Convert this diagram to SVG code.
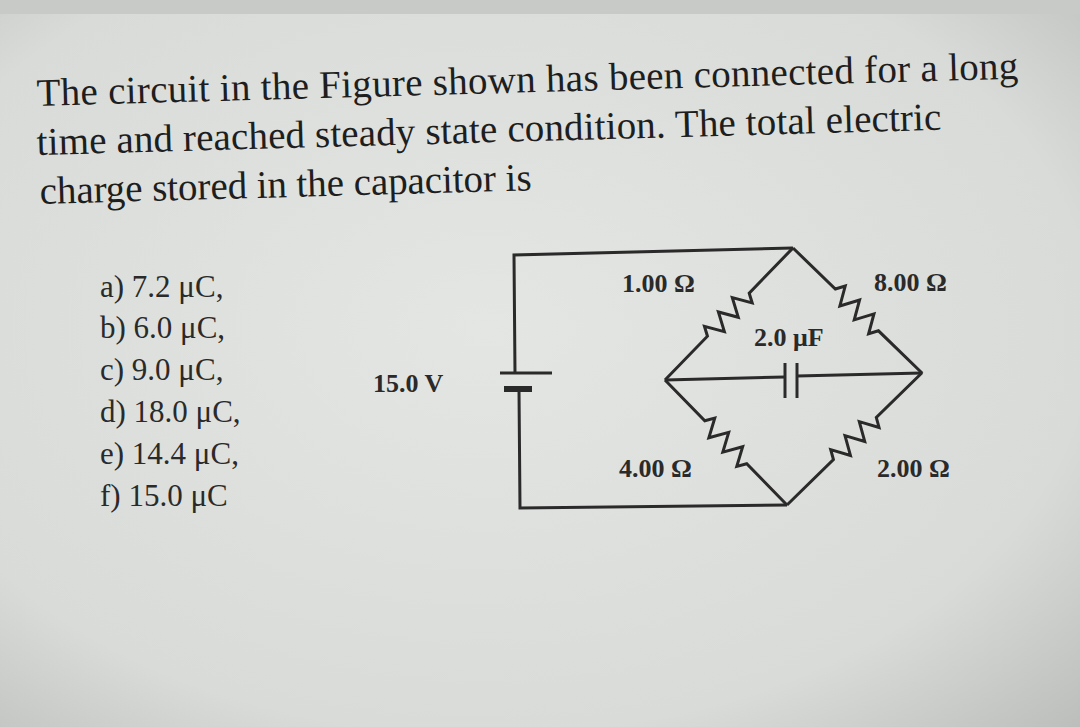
<svg xmlns="http://www.w3.org/2000/svg" width="1080" height="727" viewBox="0 0 1080 727">
<defs>
<radialGradient id="bg" cx="0.45" cy="0.45" r="0.8">
<stop offset="0" stop-color="#e4e6e3"/><stop offset="0.7" stop-color="#d9dbd8"/><stop offset="1" stop-color="#b9bbb8"/>
</radialGradient>
</defs>
<style>
.w{fill:none;stroke:#2a2a2a;stroke-width:3;stroke-linejoin:miter}
.q{font-family:"Liberation Serif",serif;font-size:39px;fill:#1e1e1e}
.a{font-family:"Liberation Serif",serif;font-size:31px;fill:#2a2a2a}
.l{font-family:"Liberation Serif",serif;font-size:26px;font-weight:bold;fill:#2a2a2a}
</style>
<rect width="1080" height="727" fill="url(#bg)"/>
<rect x="0" y="0" width="1080" height="14" fill="#c8cac7"/>
<g id="question">
<text class="q" x="37" y="106" transform="rotate(-1.6 37 106)" textLength="982">The circuit in the Figure shown has been connected for a long</text>
<text class="q" x="37" y="155" transform="rotate(-1.6 37 155)" textLength="905">time and reached steady state condition. The total electric</text>
<text class="q" x="40" y="204" transform="rotate(-1.6 40 204)" textLength="492">charge stored in the capacitor is</text>
</g>
<g id="answers">
<text class="a" x="100" y="297">a) 7.2 μC,</text>
<text class="a" x="100" y="338">b) 6.0 μC,</text>
<text class="a" x="100" y="380">c) 9.0 μC,</text>
<text class="a" x="100" y="422">d) 18.0 μC,</text>
<text class="a" x="100" y="464">e) 14.4 μC,</text>
<text class="a" x="100" y="506">f) 15.0 μC</text>
</g>
<g id="connectors">
<polyline class="w" points="515,373 514,255 793,248"/>
<polyline class="w" points="519,390 520,508 787,505"/>
<line class="w" x1="665" y1="380" x2="785" y2="377"/>
<line class="w" x1="797" y1="376" x2="922" y2="373"/>
</g>
<g id="battery">
<line x1="500" y1="373" x2="552" y2="373" stroke="#2a2a2a" stroke-width="3"/>
<line x1="504" y1="389" x2="532" y2="389" stroke="#2a2a2a" stroke-width="6"/>
<text class="l" x="373" y="392">15.0 V</text>
</g>
<g id="capacitor">
<line x1="785" y1="363" x2="785" y2="398" stroke="#2a2a2a" stroke-width="3"/>
<line x1="797" y1="363" x2="797" y2="398" stroke="#2a2a2a" stroke-width="3"/>
<text class="l" x="754" y="346">2.0 μF</text>
</g>
<g id="r1">
<path class="w" transform="translate(665 380) rotate(-45.9)" d="M0 0 H61 l5 -9 l10 18 l10 -18 l10 18 l10 -18 l10 18 l5 -9 H184"/>
<text class="l" x="622" y="292">1.00 Ω</text>
</g>
<g id="r8">
<path class="w" transform="translate(793 248) rotate(44.1)" d="M0 0 H59 l5 -9 l10 18 l10 -18 l10 18 l10 -18 l10 18 l5 -9 H180"/>
<text class="l" x="874" y="291">8.00 Ω</text>
</g>
<g id="r4">
<path class="w" transform="translate(665 380) rotate(45.7)" d="M0 0 H57 l5 -9 l10 18 l10 -18 l10 18 l10 -18 l10 18 l5 -9 H175"/>
<text class="l" x="619" y="477">4.00 Ω</text>
</g>
<g id="r2">
<path class="w" transform="translate(787 505) rotate(-44.4)" d="M0 0 H65 l5 -9 l10 18 l10 -18 l10 18 l10 -18 l10 18 l5 -9 H189"/>
<text class="l" x="877" y="477">2.00 Ω</text>
</g>
</svg>
